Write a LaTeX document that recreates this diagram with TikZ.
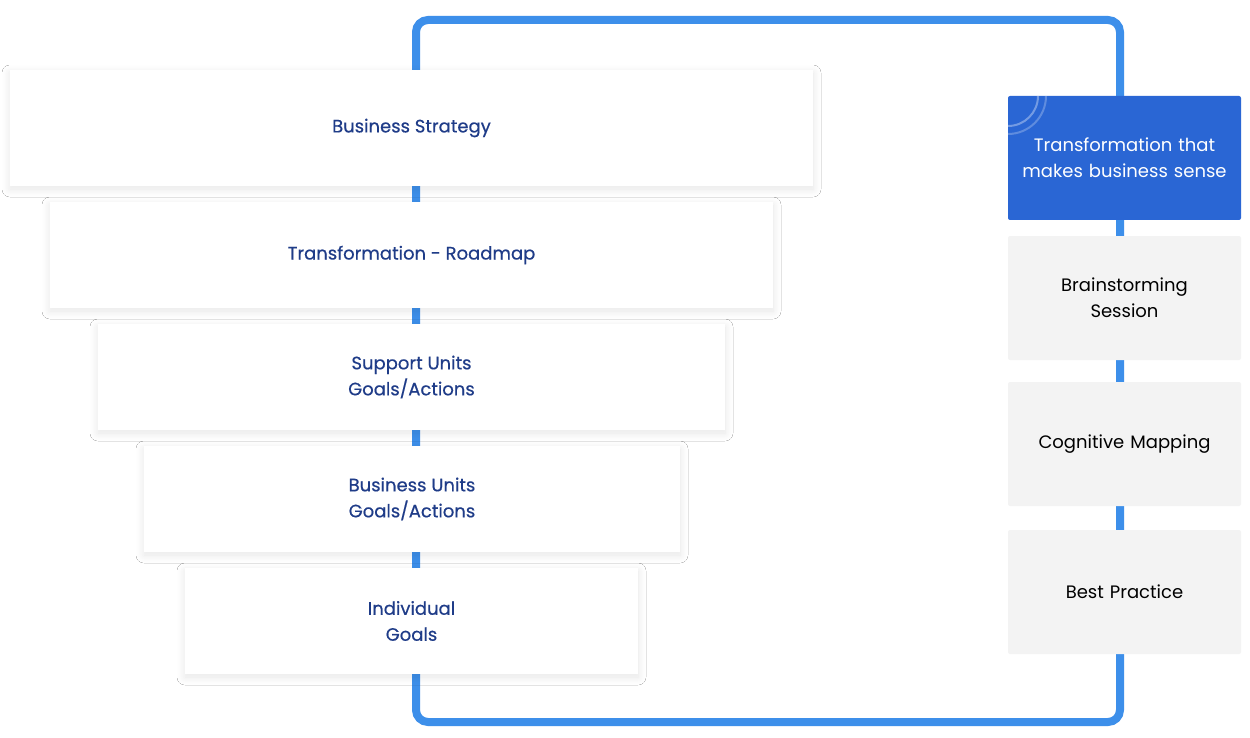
\documentclass[tikz,border=0pt]{standalone}
\usepackage{fontspec}
\setmainfont{Poppins}[FakeBold=0.5]
\newfontfamily\reg{Poppins}
\usetikzlibrary{shadows.blur}
\definecolor{loopc}{HTML}{3D8FEA}
\definecolor{navy}{HTML}{1F3C88}
\definecolor{hl}{HTML}{2A66D4}
\definecolor{pale}{HTML}{F3F3F3}
\begin{document}
\begin{tikzpicture}[x=1pt,y=-1pt,
  lbox/.style={draw=none,fill=white,blur shadow={shadow blur steps=10,shadow xshift=0pt,shadow yshift=-3pt,shadow opacity=10,shadow blur radius=8pt},text=navy,font=\fontsize{18}{26}\selectfont,align=center,inner sep=0pt},
  rbox/.style={draw=none,fill=pale,rounded corners=2pt,text=black,font=\reg\fontsize{18}{26}\selectfont,align=center,inner sep=0pt,minimum width=233pt,minimum height=124pt,text width=215pt}]
\useasboundingbox (0,0) rectangle (1250,738);
\fill[white] (0,0) rectangle (1250,738);
\draw[loopc,line width=8pt,rounded corners=12pt] (416,20) rectangle (1120,722);
\node[lbox,minimum width=803pt,minimum height=116pt] (a) at (411.5,128) {Business Strategy};
\node[lbox,minimum width=723pt,minimum height=106pt] (b) at (411.5,255) {Transformation - Roadmap};
\node[lbox,minimum width=627pt,minimum height=106pt] (c) at (411.5,377) {Support Units\\Goals/Actions};
\node[lbox,minimum width=536pt,minimum height=106pt] (d) at (412,499) {Business Units\\Goals/Actions};
\node[lbox,minimum width=453pt,minimum height=106pt] (e) at (411.5,621) {Individual\\Goals};
\node[rbox,fill=hl,text=white] (r1) at (1124.5,158) {Transformation that makes business sense};
\begin{scope}
\clip[rounded corners=2pt] (1008,96) rectangle (1241,220);
\draw[white,opacity=0.35,line width=2pt] (1008,96) circle (30);
\draw[white,opacity=0.25,line width=2pt] (1008,96) circle (38);
\end{scope}
\node[rbox] (r2) at (1124.5,298) {Brainstorming\\Session};
\node[rbox] (r3) at (1124.5,444) {Cognitive Mapping};
\node[rbox] (r4) at (1124.5,592) {Best Practice};
\end{tikzpicture}
\end{document}
